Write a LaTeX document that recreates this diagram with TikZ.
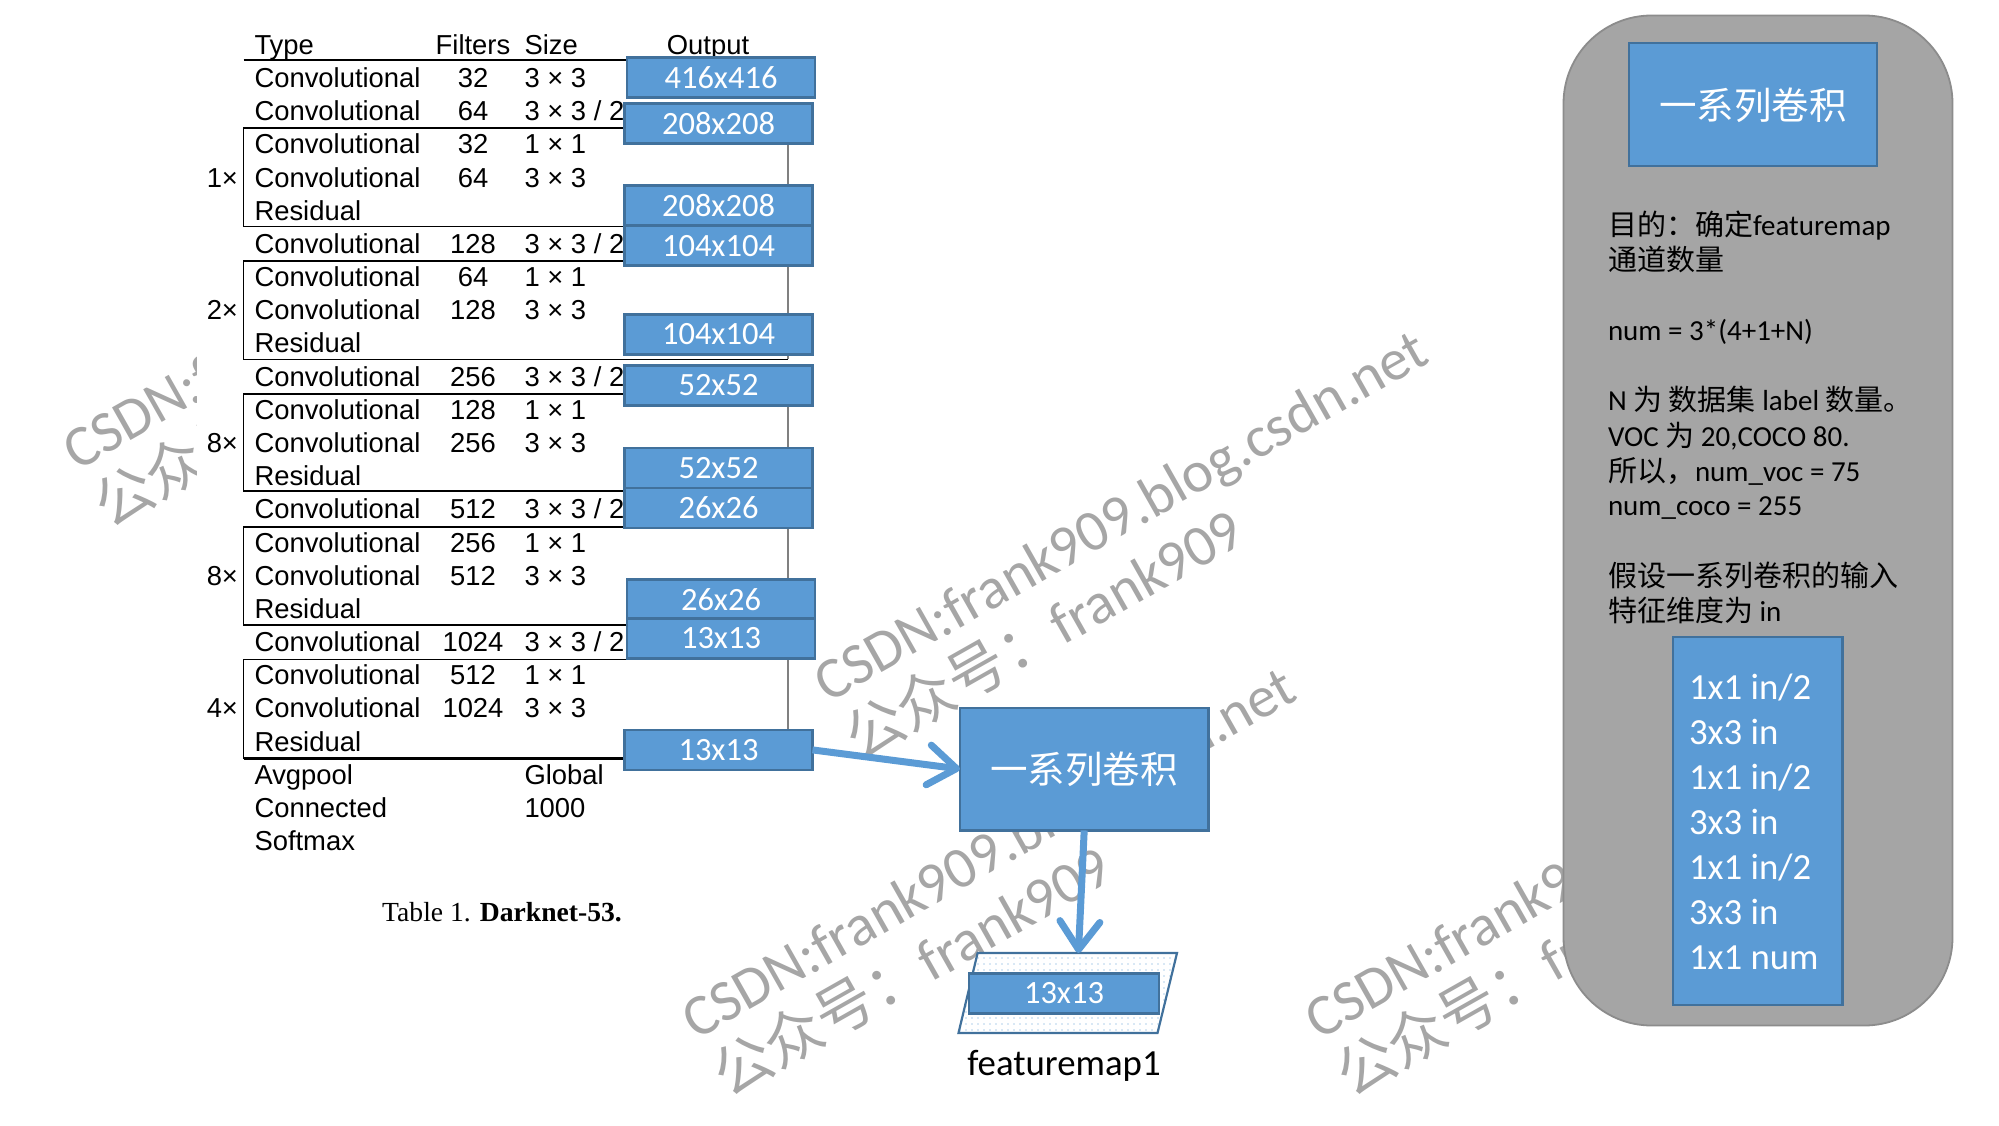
\documentclass[tikz,border=0pt]{standalone}
\usepackage{fontspec}
\setmainfont{Carlito}
\newfontfamily\cjk{Noto Sans CJK SC}
\newfontfamily\tablefont{Liberation Sans}
\newfontfamily\capfont{Liberation Serif}
\usetikzlibrary{arrows.meta,patterns.meta}
\definecolor{boxblue}{HTML}{5B9BD5}
\definecolor{boxedge}{HTML}{41719C}
\definecolor{panelgray}{HTML}{A5A5A5}
\definecolor{markgray}{HTML}{A6A6A6}
\newcommand{\sz}[1]{\fontsize{#1}{#1}\selectfont}

\begin{document}
\begin{tikzpicture}
  [x=1pt,y=-1pt,
   every node/.style={inner sep=0pt,outer sep=0pt},
   wmark/.style={anchor=base west,rotate=29.5,text=markgray,font=\sz{58.5}},
   cell/.style={anchor=base,font=\tablefont\sz{27.4}},
   celll/.style={cell,anchor=base west},
   rule/.style={black,line width=1.6pt},
   outbox/.style={draw=boxedge,fill=boxblue,line width=2.6pt,text=white,minimum width=188pt,minimum height=40pt,font=\sz{32.5}},
   bigbox/.style={draw=boxedge,fill=boxblue,line width=2.2pt,text=white,font=\cjk\sz{37.5}},
   info/.style={anchor=base west,font=\sz{29}},
   flow/.style={boxblue,line width=7pt,-{Straight Barb[length=28pt,width=40pt,round]}}]
  \useasboundingbox (0,0) rectangle (1999,1126);

  % watermarks first, everything else lies on top
  \foreach \wid/\wx/\wy in {a/77/471,b/828/703,c/696/1040,d/1319/1040} {
    \node[wmark] (w1\wid) at (\wx,\wy) {CSDN:frank909.blog.csdn.net};
    \node[wmark] (w2\wid) at (\wx+32,\wy+58) {{\cjk 公众号：}frank909};
  }
  \fill[white] (197,0) rectangle (815,900);

  % table
  \node[celll] (h1) at (254.5,55) {Type};
  \node[cell] (h2) at (473,55) {Filters};
  \node[celll] (h3) at (524.5,55) {Size};
  \node[cell] (h4) at (708,55) {Output};
  \foreach \i/\kind/\filt/\size in {
    0/Convolutional/32/3 × 3,
    1/Convolutional/64/{3 × 3 / 2},
    2/Convolutional/32/1 × 1,
    3/Convolutional/64/3 × 3,
    4/Residual//,
    5/Convolutional/128/{3 × 3 / 2},
    6/Convolutional/64/1 × 1,
    7/Convolutional/128/3 × 3,
    8/Residual//,
    9/Convolutional/256/{3 × 3 / 2},
    10/Convolutional/128/1 × 1,
    11/Convolutional/256/3 × 3,
    12/Residual//,
    13/Convolutional/512/{3 × 3 / 2},
    14/Convolutional/256/1 × 1,
    15/Convolutional/512/3 × 3,
    16/Residual//,
    17/Convolutional/1024/{3 × 3 / 2},
    18/Convolutional/512/1 × 1,
    19/Convolutional/1024/3 × 3,
    20/Residual//,
    21/Avgpool//Global,
    22/Connected//1000,
    23/Softmax//} {
    \node[celll] (k\i) at (254.5,87.5+33.18*\i) {\kind};
    \node[cell] (f\i) at (473,87.5+33.18*\i) {\filt};
    \node[celll] (s\i) at (524.5,87.5+33.18*\i) {\size};
  }
  \foreach \i/\rep in {3/1×,7/2×,11/8×,15/8×,19/4×}
    \node[cell,anchor=base east] (r\i) at (238,87.5+33.18*\i) {\rep};
  \node[anchor=base,font=\capfont\sz{27.6}] (cap) at (502,921) {Table 1. \textbf{Darknet-53.}};

  \draw[rule] (243.6,60) -- (627,60);
  \foreach \ya/\yb in {127.8/226.6,261/359.4,394/491,526.7/625,659.6/758} {
    \draw[gray,line width=2pt] (787.6,\ya) -- (787.6,\yb);
    \draw[rule] (787.6,\ya) -- (243.6,\ya) -- (243.6,\yb) -- (787.6,\yb);
  }
  \draw[black,line width=3pt] (243.6,758) -- (787.6,758);

  % output sizes
  \foreach \o/\cx/\cy/\lab in {a/721/77.3/416x416,b/718.5/123.3/208x208,c/718.5/205.8/208x208,
      d/718.5/245.7/104x104,e/718.5/334.5/104x104,f/718.5/385.5/52x52,g/718.5/468/52x52,
      h/718.5/507.9/26x26,i/721/599.2/26x26,j/721/638.5/13x13,k/718.5/749.9/13x13}
    \node[outbox] (o\o) at (\cx,\cy) {\lab};

  % middle
  \node[bigbox,minimum width=248.5pt,minimum height=122.8pt] (conv) at (1084.2,769) {一系列卷积};
  \draw[boxedge,line width=2.2pt,pattern={Dots[distance=6pt,radius=.6pt]},pattern color=boxblue]
    (977.6,953) -- (1177,953) -- (1157.5,1033) -- (958.5,1033) -- cycle;
  \coordinate (fmtop) at (1078.4,953);
  \node[outbox,minimum width=190pt] (fm) at (1064,993.5) {13x13};
  \node[anchor=base,font=\sz{36.8}] (fmlabel) at (1064,1075) {featuremap1};
  \draw[flow] (ok.east) -- (conv.west);
  \draw[flow] (conv.south) -- (fmtop);

  % right panel
  \draw[draw=gray!90,fill=panelgray,line width=1.8pt,rounded corners=88pt]
    (1563.5,15.5) rectangle (1952.5,1025.5);
  \node[bigbox,minimum width=248.5pt,minimum height=122.8pt] (conv2) at (1753,104.8) {一系列卷积};
  \foreach \j/\y/\txt in {
    1/235/{\cjk 目的：确定}featuremap,
    2/270/{\cjk 通道数量},
    3/340/{num = 3*(4+1+N)},
    4/410/{N {\cjk 为 数据集} label {\cjk 数量。}},
    5/446/{VOC {\cjk 为} 20,COCO 80.},
    6/481/{{\cjk 所以，}num\_voc = 75},
    7/515/{num\_coco = 255},
    8/586/{\cjk 假设一系列卷积的输入},
    9/621/{{\cjk 特征维度为} in}}
    \node[info] (t\j) at (1608,\y) {\txt};
  \node[draw=boxedge,fill=boxblue,line width=2.2pt,minimum width=169.5pt,minimum height=368pt] (stack) at (1757.7,821.3) {};
  \foreach \j/\y/\txt in {1/699/1x1 in\slash 2,2/744/3x3 in,3/789/1x1 in\slash 2,4/834/3x3 in,5/879/1x1 in\slash 2,6/924/3x3 in,7/969/1x1 num}
    \node[anchor=base west,text=white,font=\sz{36.8}] (l\j) at (1689,\y) {\txt};
\end{tikzpicture}
\end{document}
